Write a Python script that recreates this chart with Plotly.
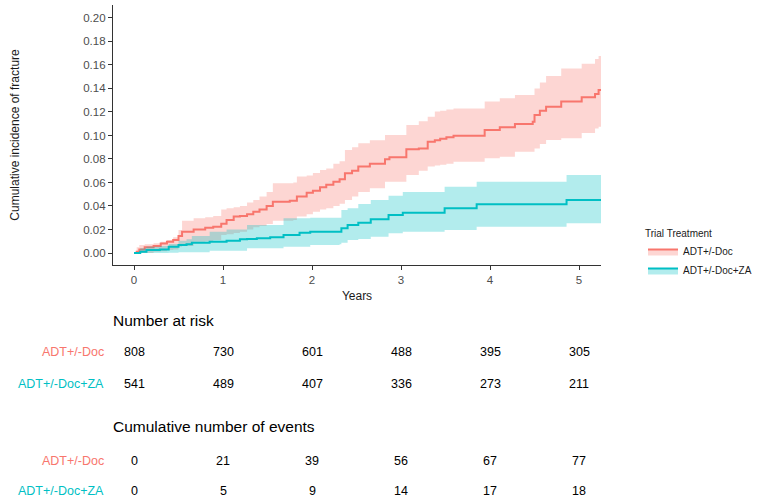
import plotly.graph_objects as go

# ---- data ----
t_doc = [0.00, 0.03, 0.06, 0.12, 0.22, 0.30, 0.37, 0.44, 0.50, 0.54, 0.67, 0.80, 0.89, 0.98,
         1.04, 1.12, 1.19, 1.27, 1.34, 1.41, 1.49, 1.56, 1.75, 1.79, 1.83, 1.94, 2.01, 2.09,
         2.16, 2.24, 2.31, 2.37, 2.45, 2.52, 2.65, 2.82, 2.87, 3.06, 3.20, 3.30, 3.38, 3.44,
         3.51, 3.59, 3.94, 4.11, 4.28, 4.48, 4.50, 4.56, 4.63, 4.80, 5.03, 5.18, 5.22, 5.25]
est_doc = [0.000, 0.001, 0.003, 0.0048, 0.006, 0.008, 0.0096, 0.011, 0.0145, 0.018, 0.020, 0.0215,
           0.0224, 0.025, 0.028, 0.031, 0.0315, 0.033, 0.035, 0.037, 0.040, 0.0437, 0.0445, 0.0445,
           0.048, 0.0513, 0.053, 0.056, 0.058, 0.0607, 0.0627, 0.0678, 0.070, 0.0735, 0.076, 0.0797,
           0.0814, 0.0882, 0.089, 0.0947, 0.096, 0.0973, 0.0985, 0.0998, 0.1047, 0.107, 0.1098, 0.1117,
           0.1174, 0.121, 0.1245, 0.129, 0.1325, 0.1353, 0.1387, 0.1387]
lo_doc = [0.000, 0.000, 0.000, 0.000, 0.001, 0.0015, 0.0026, 0.003, 0.0054, 0.006, 0.0096, 0.010,
          0.011, 0.0153, 0.016, 0.017, 0.018, 0.020, 0.0219, 0.023, 0.0247, 0.0275, 0.0275, 0.028,
          0.031, 0.033, 0.035, 0.037, 0.038, 0.040, 0.042, 0.045, 0.048, 0.052, 0.055, 0.0607,
          0.0607, 0.0664, 0.070, 0.0735, 0.0745, 0.075, 0.076, 0.0777, 0.0806, 0.082, 0.0862, 0.0862,
          0.089, 0.0928, 0.0962, 0.0976, 0.102, 0.106, 0.1075, 0.1075]
hi_doc = [0.000, 0.005, 0.0068, 0.0075, 0.0082, 0.0096, 0.011, 0.0134, 0.0196, 0.0275, 0.0295, 0.0305,
          0.0315, 0.037, 0.038, 0.039, 0.040, 0.043, 0.045, 0.048, 0.052, 0.0593, 0.0593, 0.060,
          0.065, 0.066, 0.068, 0.0706, 0.072, 0.076, 0.078, 0.0876, 0.090, 0.0933, 0.096, 0.1004,
          0.1004, 0.109, 0.112, 0.116, 0.1203, 0.121, 0.122, 0.123, 0.129, 0.1316, 0.1345, 0.1345,
          0.140, 0.145, 0.1506, 0.157, 0.161, 0.165, 0.1676, 0.1676]

t_za = [0.00, 0.07, 0.14, 0.29, 0.39, 0.50, 0.59, 0.65, 0.85, 1.04, 1.19, 1.27, 1.38, 1.53, 1.68,
        1.86, 1.98, 2.31, 2.33, 2.40, 2.52, 2.66, 2.86, 3.02, 3.49, 3.85, 4.86, 5.25]
est_za = [0.000, 0.001, 0.0026, 0.003, 0.0054, 0.0068, 0.0074, 0.0088, 0.0096, 0.0105, 0.0117, 0.012,
          0.0125, 0.0134, 0.0153, 0.0173, 0.018, 0.018, 0.021, 0.0238, 0.0258, 0.0287, 0.0323, 0.0343,
          0.038, 0.0415, 0.045, 0.045]
lo_za = [0.000, 0.000, 0.000, 0.000, 0.0003, 0.0006, 0.0006, 0.0006, 0.002, 0.002, 0.002, 0.004,
         0.004, 0.004, 0.0054, 0.0054, 0.0068, 0.0074, 0.0088, 0.011, 0.012, 0.0139, 0.0168, 0.018,
         0.0196, 0.0224, 0.0253, 0.0253]
hi_za = [0.000, 0.004, 0.0054, 0.006, 0.0077, 0.0105, 0.0117, 0.0145, 0.018, 0.020, 0.020, 0.0238,
         0.0238, 0.0238, 0.0295, 0.0295, 0.030, 0.030, 0.0366, 0.038, 0.0417, 0.045, 0.0488, 0.052,
         0.0564, 0.0607, 0.0664, 0.0664]

groups = ["ADT+/-Doc", "ADT+/-Doc+ZA"]
table_years = [0, 1, 2, 3, 4, 5]
at_risk_doc = [808, 730, 601, 488, 395, 305]
at_risk_za = [541, 489, 407, 336, 273, 211]
events_doc = [0, 21, 39, 56, 67, 77]
events_za = [0, 5, 9, 14, 17, 18]

RED = "#F8766D"
TEAL = "#00BFC4"
RED_FILL = "rgba(248,118,109,0.3)"
TEAL_FILL = "rgba(0,191,196,0.3)"
FONT = "Liberation Sans, Arial, sans-serif"

fig = go.Figure()


def add_group(t, lo, est, hi, name, color, fill):
    fig.add_trace(go.Scatter(x=t, y=lo, mode="lines", line=dict(width=0, shape="hv"),
                             showlegend=False, hoverinfo="skip", legendgroup=name))
    fig.add_trace(go.Scatter(x=t, y=est, mode="lines", name=name, legendgroup=name,
                             line=dict(color=color, width=2, shape="hv"),
                             fill="tonexty", fillcolor=fill))
    fig.add_trace(go.Scatter(x=t, y=hi, mode="lines", line=dict(width=0, shape="hv"),
                             fill="tonexty", fillcolor=fill, showlegend=False,
                             hoverinfo="skip", legendgroup=name))


add_group(t_doc, lo_doc, est_doc, hi_doc, groups[0], RED, RED_FILL)
add_group(t_za, lo_za, est_za, hi_za, groups[1], TEAL, TEAL_FILL)

axis_common = dict(showgrid=False, zeroline=False, showline=True, linecolor="#333333",
                   linewidth=1.2, ticks="outside", ticklen=4, tickcolor="#333333",
                   automargin=False,
                   tickfont=dict(family=FONT, size=11.5, color="#4D4D4D"))

fig.update_xaxes(range=[-0.236, 5.247], tickvals=table_years, title_text="Years",
                 title_font=dict(family=FONT, size=12, color="#1a1a1a"), title_standoff=6,
                 **axis_common)
fig.update_yaxes(range=[-0.0102, 0.211], tickvals=[0.0, 0.02, 0.04, 0.06, 0.08, 0.10, 0.12, 0.14, 0.16, 0.18, 0.20],
                 tickformat=".2f", title_text="Cumulative incidence of fracture",
                 title_font=dict(family=FONT, size=12, color="#1a1a1a"), title_standoff=61,
                 **axis_common)

PLOT_H = 260.0


def py(ypx):
    return (265.0 - ypx) / PLOT_H


ann = []
ann.append(dict(text="Number at risk", x=-0.004, y=py(320), xref="paper", yref="paper",
                xanchor="left", yanchor="middle", showarrow=False,
                font=dict(family=FONT, size=15.5, color="black")))
ann.append(dict(text="Cumulative number of events", x=-0.004, y=py(426), xref="paper", yref="paper",
                xanchor="left", yanchor="middle", showarrow=False,
                font=dict(family=FONT, size=15.5, color="black")))

rows = [(groups[0], RED, at_risk_doc, 352), (groups[1], TEAL, at_risk_za, 384),
        (groups[0], RED, events_doc, 461), (groups[1], TEAL, events_za, 491)]
for label, col, vals, ypx in rows:
    ann.append(dict(text=label, x=-0.014, y=py(ypx), xref="paper", yref="paper",
                    xanchor="right", yanchor="middle", showarrow=False,
                    font=dict(family=FONT, size=12.5, color=col)))
    for yr, v in zip(table_years, vals):
        ann.append(dict(text=str(v), x=yr, y=py(ypx), xref="x", yref="paper",
                        xanchor="center", yanchor="middle", showarrow=False,
                        font=dict(family=FONT, size=12.5, color="black")))

fig.update_layout(
    width=763, height=503,
    margin=dict(l=113, r=162, t=5, b=238, autoexpand=False),
    paper_bgcolor="white", plot_bgcolor="white",
    annotations=ann,
    legend=dict(title=dict(text="Trial Treatment", font=dict(family=FONT, size=10, color="#1a1a1a")),
                x=(643 - 113) / 488.0, xanchor="left", y=py(224), yanchor="top",
                font=dict(family=FONT, size=10, color="#1a1a1a"),
                itemwidth=30, tracegroupgap=0, bgcolor="rgba(0,0,0,0)"),
)

fig.write_html("out.html", config={"displayModeBar": False},
               post_script="document.body.style.margin='0';document.body.style.overflow='hidden';")
